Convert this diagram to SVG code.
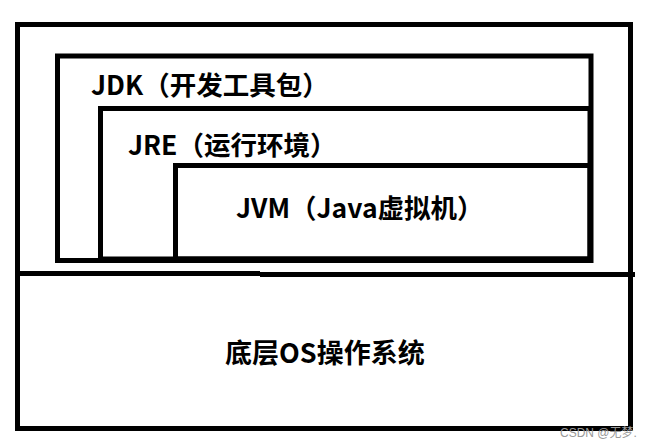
<svg xmlns="http://www.w3.org/2000/svg" width="653" height="448" viewBox="0 0 653 448">
<style>
.box{fill:none;stroke:#000;stroke-width:5}
.lbl{font-family:"Noto Sans CJK SC","Microsoft YaHei",sans-serif;font-weight:bold;font-size:26.5px;fill:#000}
.wm{font-family:"Liberation Sans","Noto Sans CJK SC",sans-serif;font-size:12px;fill:#999}
</style>
<rect width="653" height="448" fill="#fff"/>
<g id="outer">
<rect class="box" x="17.5" y="24.5" width="613" height="404"/>
</g>
<g id="connectors">
<path d="M17.5 273.5 H260 M260 274.5 H635" stroke="#000" stroke-width="5" fill="none"/>
</g>
<g id="jdk">
<rect class="box" x="57.5" y="56" width="533.5" height="204.5"/>
<text class="lbl" x="91" y="95">JDK（开发工具包）</text>
</g>
<g id="jre">
<rect class="box" x="100.5" y="108.5" width="489.5" height="150.5" stroke-width="4.5"/>
<text class="lbl" x="128" y="155">JRE（运行环境）</text>
</g>
<g id="jvm">
<rect class="box" x="175.5" y="165.5" width="414.5" height="93.5" stroke-width="4.5"/>
<text class="lbl" x="236" y="218">JVM（Java虚拟机）</text>
</g>
<g id="os">
<text class="lbl" x="225" y="363" style="font-size:27px">底层OS操作系统</text>
</g>
<text class="wm" x="560" y="437">CSDN @无梦.</text>
</svg>
